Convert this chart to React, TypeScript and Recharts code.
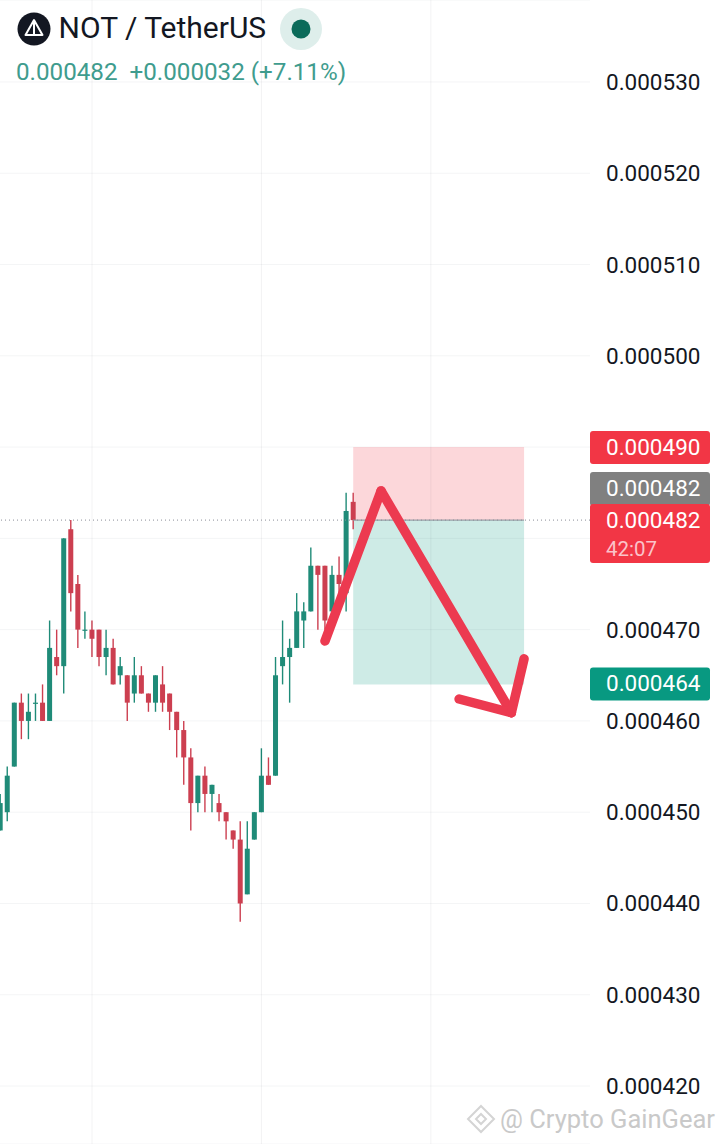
import React from "react";
import { ComposedChart, Bar, XAxis, YAxis, CartesianGrid, ReferenceLine, ReferenceArea } from "recharts";

// Prices are in millionths of USDT (462 = 0.000462)
const opens = [448, 450, 455, 462, 460, 462, 462, 460, 467, 466, 481, 475, 470, 470, 470, 467, 468, 465, 465, 463, 465, 463, 462, 464, 463, 461, 459, 456, 451, 454, 452, 451, 450, 448, 447, 441, 447, 450, 454, 454, 466, 467, 468, 471, 472, 477, 477, 472, 476, 474, 484];
const closes = [451, 454, 462, 460, 461, 462, 460, 468, 466, 480, 474, 470, 470, 469, 467, 468, 464, 466, 462, 465, 463, 462, 465, 462, 461, 459, 456, 451, 454, 452, 453, 450, 449, 447, 440, 446, 450, 454, 453, 465, 467, 468, 472, 472, 477, 476, 471, 476, 475, 483, 482];
const highs = [452, 455, 462, 463, 463, 463, 464, 471, 470, 480, 482, 476, 472, 471, 470, 470, 469, 467, 465, 467, 466, 463, 465, 466, 463, 461, 460, 457, 454, 455, 453, 452, 450, 448, 449, 449, 450, 457, 456, 467, 471, 469, 474, 473, 479, 477, 477, 477, 478, 485, 485];
const lows = [448, 449, 455, 458, 458, 460, 460, 460, 465, 463, 472, 468, 469, 467, 466, 465, 464, 464, 460, 462, 463, 461, 461, 461, 459, 456, 453, 448, 450, 450, 450, 449, 447, 446, 438, 441, 447, 450, 453, 454, 464, 462, 468, 468, 472, 470, 470, 472, 474, 472, 481];

const priceTicks = [420, 430, 440, 450, 460, 470, 480, 490, 500, 510, 520, 530];
const unlabelledTicks = [480, 490];
const timeGridIndices = [13, 37, 61];
const positionStart = 50;
const positionEnd = 74.2;
const stopPrice = 490;
const entryPrice = 482;
const targetPrice = 464;
const countdown = "42:07";
const arrowPath = [
  { x: 46, y: 468.75 },
  { x: 53.95, y: 485.2 },
  { x: 72.4, y: 460.9 },
];
const arrowHead = [
  { x: 65, y: 462.4 },
  { x: 74.2, y: 466.8 },
];

const toPrice = (v: number) => (v / 1e6).toFixed(6);

const rows = highs.map((h, i) => ({
  idx: i,
  open: opens[i],
  close: closes[i],
  high: h,
  low: lows[i],
  range: [lows[i], h] as [number, number],
}));

const GREEN = "#1f8b78";
const RED = "#cc3f50";
const W = 720;
const H = 1144;

function Candle(props: any) {
  const { x, y, width, height, payload } = props;
  const { open, close, high, low } = payload;
  const up = close >= open;
  const color = up ? GREEN : RED;
  const span = Math.max(high - low, 1e-9);
  const pxPer = height / span;
  const top = y + (high - Math.max(open, close)) * pxPer;
  const bot = y + (high - Math.min(open, close)) * pxPer;
  const cx = x + width / 2;
  return (
    <g>
      <line x1={cx} x2={cx} y1={y} y2={y + height} stroke={color} strokeWidth={1.4} />
      <rect x={cx - 2.5} y={top} width={5} height={Math.max(bot - top, 1.2)} fill={color} />
    </g>
  );
}

function PriceTag({ viewBox, text, sub, fill, rise, h }: any) {
  const y = viewBox.y;
  const top = y - rise;
  return (
    <g fontFamily="Roboto" fontSize={22.5}>
      <rect x={590} y={top} width={120} height={h} rx={3} fill={fill} />
      <text x={606} y={top + 24} fill="#fff">{text}</text>
      {sub ? <text x={606} y={top + 52} fontSize={20.5} fill="#fbc3c9">{sub}</text> : null}
    </g>
  );
}

const arrowStyle = { stroke: "#ec3a50", strokeWidth: 9.5, strokeLinecap: "round" as const, ifOverflow: "visible" as const };

export default function App() {
  return (
    <div style={{ position: "absolute", left: 0, top: 0, width: W, height: H, background: "#fff", overflow: "hidden", fontFamily: "Roboto" }}>
      <ComposedChart width={W} height={H} data={rows} margin={{ top: 0, right: 0, bottom: 0, left: 0 }} style={{ position: "absolute", left: 0, top: 0 }}>
        <CartesianGrid vertical={false} stroke="#f4f5f6" strokeWidth={1} />
        {timeGridIndices.map((k) => (
          <ReferenceLine key={k} x={k} stroke="#131722" strokeOpacity={0.05} strokeWidth={1} />
        ))}
        <XAxis type="number" dataKey="idx" domain={[-0.03, 83.54]} hide allowDataOverflow />
        <YAxis
          orientation="right"
          width={130}
          domain={[413.65, 538.98]}
          ticks={priceTicks}
          tickFormatter={(v: number) => (unlabelledTicks.includes(v) ? "" : toPrice(v))}
          axisLine={false}
          tickLine={false}
          tickMargin={10}
          interval={0}
          allowDataOverflow
          tick={{ fill: "#131722", fontSize: 22.5, fontFamily: "Roboto" }}
        />
        <ReferenceLine y={entryPrice} stroke="#8a8e97" strokeWidth={1} strokeDasharray="1 3" />
        <ReferenceArea x1={positionStart} x2={positionEnd} y1={entryPrice} y2={stopPrice} fill="#f23645" fillOpacity={0.2} stroke="none" />
        <ReferenceArea x1={positionStart} x2={positionEnd} y1={targetPrice} y2={entryPrice} fill="#089981" fillOpacity={0.2} stroke="none" />
        <ReferenceLine segment={[{ x: positionStart, y: entryPrice }, { x: positionEnd, y: entryPrice }]} stroke="#8a8e97" strokeWidth={1} />
        <Bar dataKey="range" barSize={5} shape={<Candle />} isAnimationActive={false} />
        <ReferenceLine segment={[arrowPath[0], arrowPath[1]]} {...arrowStyle} />
        <ReferenceLine segment={[arrowPath[1], arrowPath[2]]} {...arrowStyle} />
        <ReferenceLine segment={[arrowHead[0], arrowPath[2]]} {...arrowStyle} />
        <ReferenceLine segment={[arrowHead[1], arrowPath[2]]} {...arrowStyle} />
        <ReferenceLine y={stopPrice} stroke="none" label={(p: any) => <PriceTag {...p} text={toPrice(stopPrice)} fill="#f23645" rise={16} h={33} />} />
        <ReferenceLine y={entryPrice} stroke="none" label={(p: any) => <PriceTag {...p} text={toPrice(entryPrice)} fill="#808080" rise={48} h={34} />} />
        <ReferenceLine y={entryPrice} stroke="none" label={(p: any) => <PriceTag {...p} text={toPrice(entryPrice)} sub={countdown} fill="#f23645" rise={16} h={59} />} />
        <ReferenceLine y={targetPrice} stroke="none" label={(p: any) => <PriceTag {...p} text={toPrice(targetPrice)} fill="#089981" rise={17} h={33} />} />
      </ComposedChart>

      <svg width={W} height={100} style={{ position: "absolute", left: 0, top: 0 }}>
        <circle cx={34} cy={29} r={16.5} fill="#131722" />
        <path d="M34 20 L42.5 35 L25.5 35 Z M34 20 L34 35" fill="none" stroke="#fff" strokeWidth={2} strokeLinejoin="round" />
        <text x={58.5} y={38} fontSize={30} fill="#131722" fontFamily="Roboto">NOT / TetherUS</text>
        <circle cx={301} cy={29} r={21} fill="#deeeeb" />
        <circle cx={301} cy={29} r={9.5} fill="#0b6b5a" />
        <text x={16} y={80} fontSize={24.2} fill="#3f9c8e" fontFamily="Roboto" xmlSpace="preserve">0.000482  +0.000032 (+7.11%)</text>
      </svg>

      <svg width={W} height={60} style={{ position: "absolute", left: 0, top: 1090 }}>
        <g transform="translate(481 29)" fill="none" stroke="#d4d4d4" strokeWidth={2}>
          <path d="M0 -13 L13 0 L0 13 L-13 0 Z" />
          <path d="M0 -5 L5 0 L0 5 L-5 0 Z" />
        </g>
        <text x={500} y={38} fontSize={25.5} fill="#c9c9c9" fontFamily="Roboto">@ Crypto GainGear</text>
      </svg>
    </div>
  );
}
